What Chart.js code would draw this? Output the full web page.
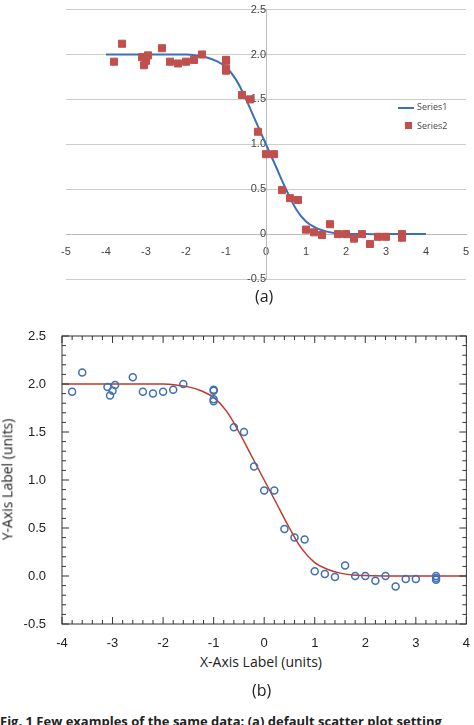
<!DOCTYPE html>
<html>
<head>
<meta charset="utf-8">
<script src="https://cdn.jsdelivr.net/npm/chart.js@4/dist/chart.umd.min.js"></script>
<style>
  body { margin: 0; width: 474px; height: 725px; overflow: hidden; background: #fff; font-family: "Open Sans", sans-serif; position: relative; }
  canvas { position: absolute; left: 0; }
  .txt { position: absolute; color: #222; white-space: nowrap; }
</style>
</head>
<body>
<canvas id="chartA" style="top:0px" width="474" height="300"></canvas>
<canvas id="chartB" style="top:320px" width="474" height="330"></canvas>

<div class="txt" style="left:417px;top:100px;font-size:9px;color:#444">Series1</div>
<div class="txt" style="left:417px;top:119px;font-size:9px;color:#444">Series2</div>
<div style="position:absolute;left:398px;top:107px;width:16px;height:2px;background:#3c70b8"></div>
<div style="position:absolute;left:405px;top:122px;width:7px;height:7px;background:#c0504d"></div>

<div class="txt" style="left:255px;top:285px;font-size:16px">(a)</div>
<div class="txt" style="left:200px;top:652px;font-size:14px">X-Axis Label (units)</div>
<div class="txt" style="left:-54px;top:470px;font-size:14px;transform:rotate(-90deg)">Y-Axis Label (units)</div>
<div class="txt" style="left:252px;top:679px;font-size:16px">(b)</div>
<div class="txt" style="left:0;top:712px;font-size:13px;font-weight:bold">Fig. 1 Few examples of the same data: (a) default scatter plot setting</div>

<script>
const pointX = [-3.8, -3.6, -3.1, -3.05, -3, -2.95, -2.6, -2.4, -2.2, -2, -1.8, -1.6, -1, -1, -1, -1,
  -0.6, -0.4, -0.2, 0, 0.2, 0.4, 0.6, 0.8, 1, 1.2, 1.4, 1.6, 1.8, 2, 2.2, 2.4, 2.6, 2.8, 3, 3.4, 3.4, 3.4];
const pointY = [1.92, 2.12, 1.97, 1.88, 1.93, 1.99, 2.07, 1.92, 1.90, 1.92, 1.94, 2.0, 1.93, 1.94, 1.84, 1.82,
  1.55, 1.50, 1.14, 0.89, 0.89, 0.49, 0.40, 0.38, 0.05, 0.02, -0.01, 0.11, 0.0, 0.0, -0.05, 0.0, -0.11, -0.03, -0.03, -0.02, 0.0, -0.04];
const curveX = [-4, -3.5, -3, -2.5, -2, -1.75, -1.5, -1.25, -1, -0.75, -0.5, -0.25, 0, 0.25, 0.5, 0.75, 1, 1.25, 1.5, 1.75, 2, 2.5, 3, 3.5, 4];
const curveY = [2.0, 2.0, 2.0, 2.0, 2.0, 1.99, 1.97, 1.93, 1.86, 1.72, 1.5, 1.25, 1.0, 0.75, 0.5, 0.28, 0.14, 0.07, 0.03, 0.01, 0.005, 0, 0, 0, 0];

const points = pointX.map((x, i) => ({ x, y: pointY[i] }));
const curve = curveX.map((x, i) => ({ x, y: curveY[i] }));

// chart (a): spreadsheet style, axes crossing at zero
new Chart(document.getElementById("chartA"), {
  type: "scatter",
  data: {
    datasets: [
      { type: "line", data: curve, borderColor: "#3c70b8", borderWidth: 2, pointRadius: 0, tension: 0.4, order: 2 },
      { data: points, pointStyle: "rect", pointRadius: 5, backgroundColor: "#c0504d", borderColor: "#c0504d", order: 1 },
    ],
  },
  options: {
    responsive: false,
    animation: false,
    layout: { padding: { left: 66, right: 8, top: 5, bottom: 21 } },
    plugins: { legend: { display: false }, tooltip: { enabled: false } },
    scales: {
      x: {
        type: "linear", min: -5, max: 5, position: { y: 0 },
        ticks: { stepSize: 1, color: "#444", font: { size: 11 } },
        grid: { display: false },
        border: { color: "#bbb" },
      },
      y: {
        min: -0.5, max: 2.5, position: { x: 0 },
        ticks: { stepSize: 0.5, color: "#444", font: { size: 11 } },
        grid: { color: "#ccc", drawTicks: false },
        border: { color: "#bbb" },
      },
    },
  },
});

// inward ticks on all four sides of the boxed plot
const boxTicks = {
  id: "boxTicks",
  afterDraw(chart) {
    const { ctx, chartArea: a, scales: { x, y } } = chart;
    ctx.save();
    ctx.strokeStyle = "#333";
    ctx.lineWidth = 1;
    ctx.beginPath();
    for (let i = -40; i <= 40; i += 2) {
      const px = x.getPixelForValue(i / 10);
      const len = i % 10 === 0 ? 7 : 4;
      ctx.moveTo(px, a.bottom); ctx.lineTo(px, a.bottom - len);
      ctx.moveTo(px, a.top); ctx.lineTo(px, a.top + len);
    }
    for (let i = -5; i <= 25; i++) {
      const py = y.getPixelForValue(i / 10);
      const len = i % 5 === 0 ? 7 : 4;
      ctx.moveTo(a.left, py); ctx.lineTo(a.left + len, py);
      ctx.moveTo(a.right, py); ctx.lineTo(a.right - len, py);
    }
    ctx.stroke();
    ctx.strokeRect(a.left, a.top, a.right - a.left, a.bottom - a.top);
    ctx.restore();
  },
};

// chart (b): boxed scientific style
new Chart(document.getElementById("chartB"), {
  type: "scatter",
  data: {
    datasets: [
      { type: "line", data: curve, borderColor: "#c0392b", borderWidth: 1.5, pointRadius: 0, tension: 0.4, order: 2 },
      { data: points, pointStyle: "circle", pointRadius: 3.5, borderWidth: 1.5, backgroundColor: "rgba(0,0,0,0)", borderColor: "#3f6fb5", order: 1 },
    ],
  },
  options: {
    responsive: false,
    animation: false,
    layout: { padding: { left: 0, right: 5, top: 16, bottom: 0 } },
    plugins: { legend: { display: false }, tooltip: { enabled: false } },
    scales: {
      x: {
        type: "linear", min: -4, max: 4,
        afterFit: (s) => { s.height = 26; },
        ticks: { stepSize: 1, color: "#222", font: { size: 13 }, padding: 4 },
        grid: { display: false },
        border: { display: false },
      },
      y: {
        min: -0.5, max: 2.5,
        afterFit: (s) => { s.width = 62; },
        ticks: { stepSize: 0.5, color: "#222", font: { size: 13 }, padding: 8, callback: (v) => v.toFixed(1) },
        grid: { display: false },
        border: { display: false },
      },
    },
  },
  plugins: [boxTicks],
});
</script>
</body>
</html>
